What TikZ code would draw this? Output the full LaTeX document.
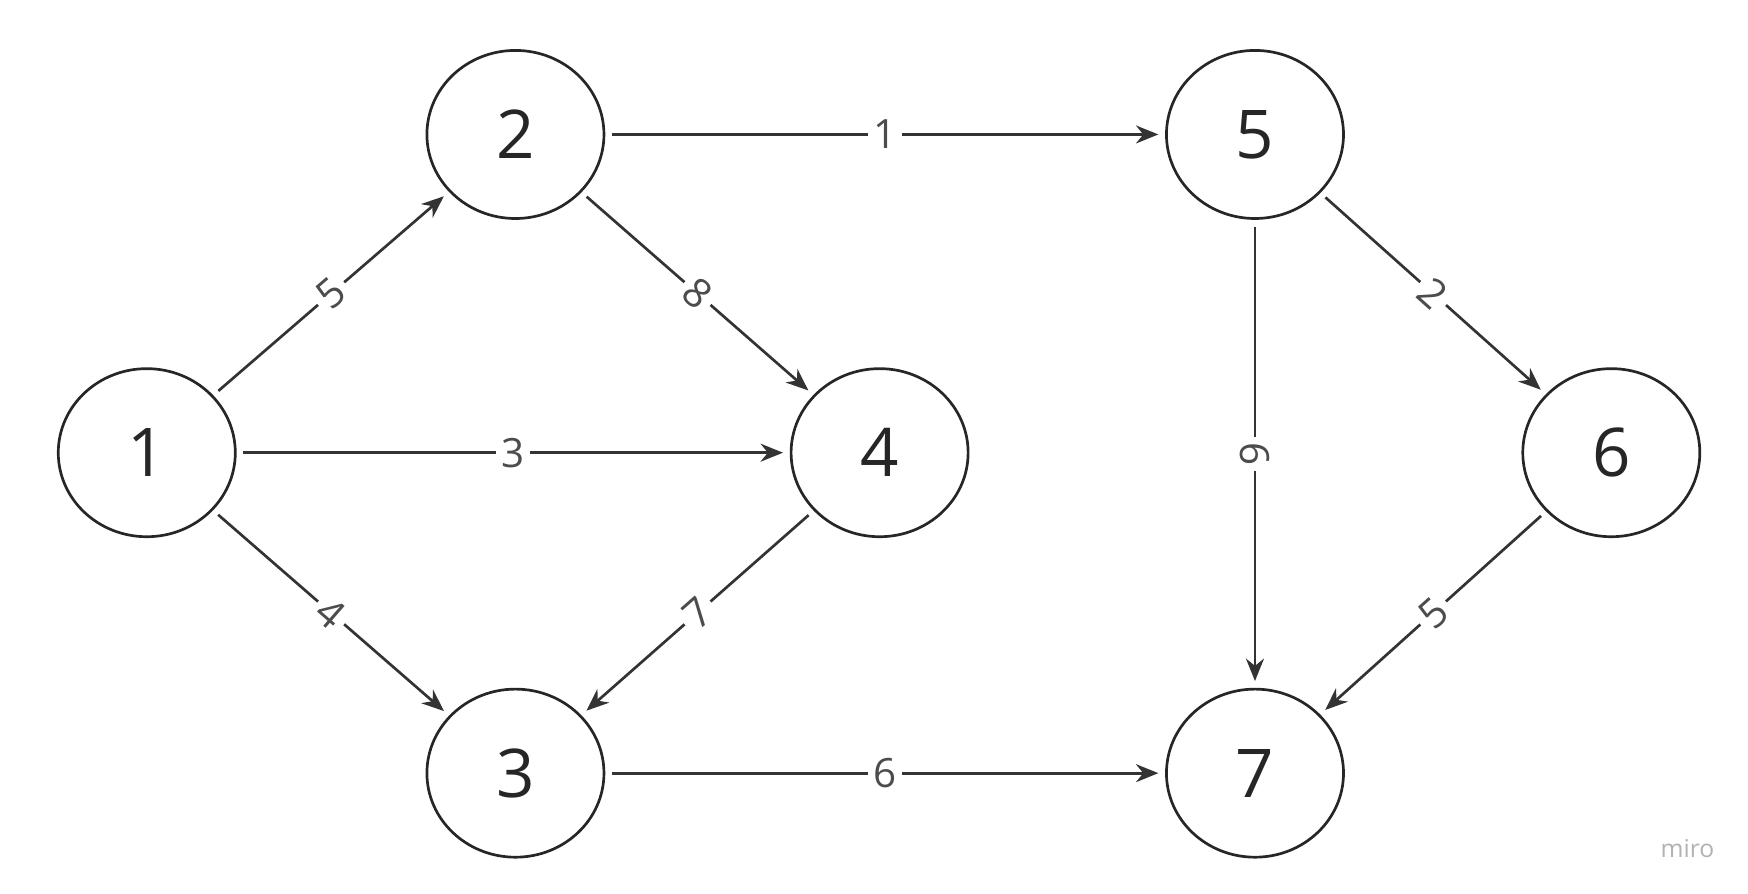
\documentclass[tikz,border=0pt]{standalone}
\usepackage{fontspec}
\setmainfont{Open Sans}
\usetikzlibrary{arrows.meta,shapes.geometric}
\begin{document}
\begin{tikzpicture}[x=1pt,y=-1pt,
  v/.style={draw=black!85,line width=2.4pt,ellipse,minimum width=158pt,minimum height=150pt,inner sep=0pt,font=\fontsize{60}{60}\selectfont,text=black!85},
  e/.style={draw=black!80,line width=2.4pt,-{Stealth[length=20pt,width=16pt]},shorten <=6pt,shorten >=6pt},
  w/.style={midway,sloped,fill=white,inner sep=5pt,font=\fontsize{36}{36}\selectfont,text=black!70}]
\useasboundingbox (0,0) rectangle (1560,797);
\node[v] (n1) at (131,404) {1};
\node[v] (n2) at (460,120) {2};
\node[v] (n3) at (460,690) {3};
\node[v] (n4) at (785,404) {4};
\node[v] (n5) at (1120,120) {5};
\node[v] (n6) at (1438,404) {6};
\node[v] (n7) at (1120,690) {7};
\draw[e] (n1) -- node[w]{5} (n2);
\draw[e] (n1) -- node[w]{3} (n4);
\draw[e] (n1) -- node[w]{4} (n3);
\draw[e] (n2) -- node[w]{8} (n4);
\draw[e] (n2) -- node[w]{1} (n5);
\draw[e] (n4) -- node[w]{7} (n3);
\draw[e] (n3) -- node[w]{6} (n7);
\draw[e] (n5) -- node[w]{2} (n6);
\draw[e] (n5) -- node[w]{6} (n7);
\draw[e] (n6) -- node[w]{5} (n7);
\node[text=black!30,font=\fontsize{22}{22}\selectfont] (m) at (1506,757) {miro};
\end{tikzpicture}
\end{document}
